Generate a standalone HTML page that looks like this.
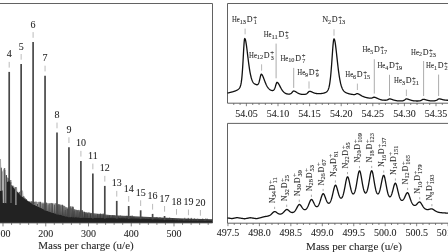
<!DOCTYPE html>
<html><head><meta charset="utf-8"><style>
html,body{margin:0;padding:0;background:#fff;overflow:hidden;width:448px;height:252px;}
svg{display:block;}
text{font-family:"Liberation Serif", "DejaVu Serif", serif;fill:#222;stroke:#222;stroke-width:0.06px;}
.lab text{fill:#2a2a2a;stroke:#2a2a2a;stroke-width:0.08px;}
</style></head><body>
<svg width="448" height="252" viewBox="0 0 448 252">
<rect width="448" height="252" fill="#fff"/>
<defs><linearGradient id="fg" gradientUnits="userSpaceOnUse" x1="0" y1="158" x2="0" y2="223"><stop offset="0" stop-color="#a8a8a8"/><stop offset="0.6" stop-color="#b0b0b0"/><stop offset="0.72" stop-color="#a8a8a8"/><stop offset="0.8" stop-color="#8a8a8a"/><stop offset="0.88" stop-color="#606060"/><stop offset="0.93" stop-color="#444"/><stop offset="1" stop-color="#2c2c2c"/></linearGradient></defs>
<polygon points="0,222.90 0.00,159.00 1.00,159.00 1.20,167.70 2.00,172.00 4.00,168.00 5.50,175.00 8.00,177.90 10.00,181.00 11.50,185.00 13.00,186.00 15.00,187.00 17.00,187.00 17.50,193.00 19.00,192.00 21.00,190.50 23.00,190.50 23.50,196.00 26.00,199.00 28.00,201.50 32.00,201.80 40.00,202.20 48.00,203.00 56.00,203.60 60.00,204.30 64.00,205.50 66.00,207.00 68.00,207.50 70.00,206.20 73.00,206.60 74.00,209.20 80.00,210.50 82.00,210.30 84.00,212.00 88.00,212.60 96.00,213.60 110.00,214.90 124.00,215.70 150.00,217.00 184.00,218.40 212.50,219.20 212.5,222.90" fill="url(#fg)"/>
<polygon points="0,222.90 0.00,190.50 2.60,190.50 2.80,203.00 6.80,203.00 7.00,182.00 9.50,180.50 11.00,184.50 13.00,187.00 15.00,189.50 17.00,191.50 18.50,193.00 20.00,194.50 22.00,196.50 24.00,198.30 28.00,201.00 32.00,203.50 36.00,205.70 40.00,207.60 45.00,210.00 50.00,211.90 55.00,213.50 60.00,214.70 65.00,216.20 70.00,217.00 88.00,217.90 124.00,218.30 150.00,218.90 184.00,220.60 212.50,221.00 212.5,222.90" fill="#222"/>
<line x1="25.00" y1="197.91" x2="25.00" y2="198.98" stroke="#353535" stroke-width="0.8"/>
<line x1="26.54" y1="199.01" x2="26.54" y2="200.01" stroke="#4a4a4a" stroke-width="0.8"/>
<line x1="29.74" y1="201.43" x2="29.74" y2="202.09" stroke="#353535" stroke-width="0.8"/>
<line x1="31.30" y1="201.14" x2="31.30" y2="203.06" stroke="#353535" stroke-width="0.8"/>
<line x1="32.93" y1="201.21" x2="32.93" y2="204.01" stroke="#4a4a4a" stroke-width="0.8"/>
<line x1="34.30" y1="201.74" x2="34.30" y2="204.77" stroke="#4a4a4a" stroke-width="0.8"/>
<line x1="35.95" y1="201.37" x2="35.95" y2="205.67" stroke="#4a4a4a" stroke-width="0.8"/>
<line x1="37.49" y1="204.01" x2="37.49" y2="206.41" stroke="#353535" stroke-width="0.8"/>
<line x1="39.13" y1="201.73" x2="39.13" y2="207.18" stroke="#3e3e3e" stroke-width="0.8"/>
<line x1="40.51" y1="201.78" x2="40.51" y2="207.85" stroke="#3e3e3e" stroke-width="0.8"/>
<line x1="42.15" y1="203.52" x2="42.15" y2="208.63" stroke="#353535" stroke-width="0.8"/>
<line x1="43.80" y1="203.57" x2="43.80" y2="209.42" stroke="#3e3e3e" stroke-width="0.8"/>
<line x1="45.16" y1="203.91" x2="45.16" y2="210.06" stroke="#4a4a4a" stroke-width="0.8"/>
<line x1="46.49" y1="202.63" x2="46.49" y2="210.57" stroke="#4a4a4a" stroke-width="0.8"/>
<line x1="48.11" y1="204.38" x2="48.11" y2="211.18" stroke="#3e3e3e" stroke-width="0.8"/>
<line x1="49.76" y1="203.60" x2="49.76" y2="211.81" stroke="#3e3e3e" stroke-width="0.8"/>
<line x1="51.21" y1="202.94" x2="51.21" y2="212.29" stroke="#353535" stroke-width="0.8"/>
<line x1="52.56" y1="203.38" x2="52.56" y2="212.72" stroke="#3e3e3e" stroke-width="0.8"/>
<line x1="54.39" y1="204.72" x2="54.39" y2="213.30" stroke="#3e3e3e" stroke-width="0.8"/>
<line x1="56.05" y1="203.01" x2="56.05" y2="213.75" stroke="#4a4a4a" stroke-width="0.8"/>
<line x1="57.60" y1="205.20" x2="57.60" y2="214.12" stroke="#353535" stroke-width="0.8"/>
<line x1="59.46" y1="204.59" x2="59.46" y2="214.57" stroke="#4a4a4a" stroke-width="0.8"/>
<line x1="60.81" y1="205.31" x2="60.81" y2="214.94" stroke="#3e3e3e" stroke-width="0.8"/>
<line x1="62.31" y1="205.17" x2="62.31" y2="215.39" stroke="#3e3e3e" stroke-width="0.8"/>
<line x1="63.96" y1="205.97" x2="63.96" y2="215.89" stroke="#353535" stroke-width="0.8"/>
<line x1="65.83" y1="207.40" x2="65.83" y2="216.33" stroke="#4a4a4a" stroke-width="0.8"/>
<line x1="67.17" y1="208.54" x2="67.17" y2="216.55" stroke="#3e3e3e" stroke-width="0.8"/>
<line x1="68.85" y1="208.93" x2="68.85" y2="216.82" stroke="#3e3e3e" stroke-width="0.8"/>
<line x1="70.33" y1="206.52" x2="70.33" y2="217.02" stroke="#4a4a4a" stroke-width="0.8"/>
<line x1="71.83" y1="208.28" x2="71.83" y2="217.09" stroke="#3e3e3e" stroke-width="0.8"/>
<line x1="73.23" y1="206.74" x2="73.23" y2="217.16" stroke="#353535" stroke-width="0.8"/>
<line x1="74.67" y1="209.35" x2="74.67" y2="217.23" stroke="#4a4a4a" stroke-width="0.8"/>
<line x1="76.11" y1="209.95" x2="76.11" y2="217.31" stroke="#3e3e3e" stroke-width="0.8"/>
<line x1="77.46" y1="210.41" x2="77.46" y2="217.37" stroke="#4a4a4a" stroke-width="0.8"/>
<line x1="78.93" y1="209.85" x2="78.93" y2="217.45" stroke="#3e3e3e" stroke-width="0.8"/>
<line x1="80.75" y1="210.40" x2="80.75" y2="217.54" stroke="#3e3e3e" stroke-width="0.8"/>
<line x1="82.64" y1="211.95" x2="82.64" y2="217.63" stroke="#3e3e3e" stroke-width="0.8"/>
<line x1="84.51" y1="211.70" x2="84.51" y2="217.73" stroke="#353535" stroke-width="0.8"/>
<line x1="85.90" y1="213.33" x2="85.90" y2="217.80" stroke="#353535" stroke-width="0.8"/>
<line x1="87.50" y1="213.37" x2="87.50" y2="217.87" stroke="#3e3e3e" stroke-width="0.8"/>
<line x1="88.96" y1="212.33" x2="88.96" y2="217.91" stroke="#4a4a4a" stroke-width="0.8"/>
<line x1="90.49" y1="213.70" x2="90.49" y2="217.93" stroke="#353535" stroke-width="0.8"/>
<line x1="92.20" y1="213.77" x2="92.20" y2="217.95" stroke="#4a4a4a" stroke-width="0.8"/>
<line x1="93.89" y1="214.61" x2="93.89" y2="217.97" stroke="#3e3e3e" stroke-width="0.8"/>
<line x1="95.73" y1="214.95" x2="95.73" y2="217.99" stroke="#4a4a4a" stroke-width="0.8"/>
<line x1="97.51" y1="214.04" x2="97.51" y2="218.01" stroke="#3e3e3e" stroke-width="0.8"/>
<line x1="99.05" y1="214.43" x2="99.05" y2="218.02" stroke="#3e3e3e" stroke-width="0.8"/>
<line x1="100.39" y1="213.40" x2="100.39" y2="218.04" stroke="#353535" stroke-width="0.8"/>
<line x1="101.95" y1="213.66" x2="101.95" y2="218.06" stroke="#4a4a4a" stroke-width="0.8"/>
<line x1="103.28" y1="213.48" x2="103.28" y2="218.07" stroke="#353535" stroke-width="0.8"/>
<line x1="104.90" y1="216.28" x2="104.90" y2="218.09" stroke="#4a4a4a" stroke-width="0.8"/>
<line x1="106.22" y1="216.20" x2="106.22" y2="218.10" stroke="#4a4a4a" stroke-width="0.8"/>
<line x1="107.74" y1="215.67" x2="107.74" y2="218.12" stroke="#3e3e3e" stroke-width="0.8"/>
<line x1="109.41" y1="215.37" x2="109.41" y2="218.14" stroke="#353535" stroke-width="0.8"/>
<line x1="111.22" y1="216.95" x2="111.22" y2="218.16" stroke="#3e3e3e" stroke-width="0.8"/>
<line x1="112.80" y1="215.13" x2="112.80" y2="218.18" stroke="#353535" stroke-width="0.8"/>
<line x1="114.16" y1="215.30" x2="114.16" y2="218.19" stroke="#3e3e3e" stroke-width="0.8"/>
<line x1="115.75" y1="216.37" x2="115.75" y2="218.21" stroke="#4a4a4a" stroke-width="0.8"/>
<line x1="117.07" y1="217.17" x2="117.07" y2="218.22" stroke="#4a4a4a" stroke-width="0.8"/>
<line x1="118.58" y1="216.52" x2="118.58" y2="218.24" stroke="#353535" stroke-width="0.8"/>
<line x1="120.34" y1="215.53" x2="120.34" y2="218.26" stroke="#4a4a4a" stroke-width="0.8"/>
<line x1="122.16" y1="216.74" x2="122.16" y2="218.28" stroke="#3e3e3e" stroke-width="0.8"/>
<line x1="123.77" y1="217.43" x2="123.77" y2="218.30" stroke="#3e3e3e" stroke-width="0.8"/>
<line x1="125.53" y1="216.47" x2="125.53" y2="218.34" stroke="#4a4a4a" stroke-width="0.8"/>
<line x1="127.03" y1="215.68" x2="127.03" y2="218.37" stroke="#353535" stroke-width="0.8"/>
<line x1="128.81" y1="217.43" x2="128.81" y2="218.41" stroke="#4a4a4a" stroke-width="0.8"/>
<line x1="130.59" y1="215.79" x2="130.59" y2="218.45" stroke="#3e3e3e" stroke-width="0.8"/>
<line x1="132.11" y1="215.39" x2="132.11" y2="218.49" stroke="#353535" stroke-width="0.8"/>
<line x1="133.88" y1="216.72" x2="133.88" y2="218.53" stroke="#353535" stroke-width="0.8"/>
<line x1="140.58" y1="216.35" x2="140.58" y2="218.68" stroke="#353535" stroke-width="0.8"/>
<line x1="142.16" y1="216.75" x2="142.16" y2="218.72" stroke="#3e3e3e" stroke-width="0.8"/>
<line x1="145.64" y1="217.32" x2="145.64" y2="218.80" stroke="#4a4a4a" stroke-width="0.8"/>
<line x1="147.14" y1="217.86" x2="147.14" y2="218.83" stroke="#4a4a4a" stroke-width="0.8"/>
<line x1="148.52" y1="217.21" x2="148.52" y2="218.87" stroke="#4a4a4a" stroke-width="0.8"/>
<line x1="150.27" y1="217.55" x2="150.27" y2="218.91" stroke="#353535" stroke-width="0.8"/>
<line x1="151.83" y1="218.06" x2="151.83" y2="218.99" stroke="#353535" stroke-width="0.8"/>
<line x1="155.14" y1="217.54" x2="155.14" y2="219.16" stroke="#353535" stroke-width="0.8"/>
<line x1="156.88" y1="216.96" x2="156.88" y2="219.24" stroke="#353535" stroke-width="0.8"/>
<line x1="158.20" y1="218.19" x2="158.20" y2="219.31" stroke="#3e3e3e" stroke-width="0.8"/>
<line x1="159.98" y1="217.02" x2="159.98" y2="219.40" stroke="#4a4a4a" stroke-width="0.8"/>
<line x1="161.87" y1="218.53" x2="161.87" y2="219.49" stroke="#3e3e3e" stroke-width="0.8"/>
<line x1="163.26" y1="218.28" x2="163.26" y2="219.56" stroke="#353535" stroke-width="0.8"/>
<line x1="166.26" y1="218.34" x2="166.26" y2="219.71" stroke="#353535" stroke-width="0.8"/>
<line x1="169.62" y1="217.60" x2="169.62" y2="219.88" stroke="#3e3e3e" stroke-width="0.8"/>
<line x1="171.04" y1="218.47" x2="171.04" y2="219.95" stroke="#4a4a4a" stroke-width="0.8"/>
<line x1="172.54" y1="218.65" x2="172.54" y2="220.03" stroke="#353535" stroke-width="0.8"/>
<line x1="173.88" y1="219.25" x2="173.88" y2="220.09" stroke="#3e3e3e" stroke-width="0.8"/>
<line x1="175.57" y1="219.54" x2="175.57" y2="220.18" stroke="#4a4a4a" stroke-width="0.8"/>
<line x1="178.73" y1="218.87" x2="178.73" y2="220.34" stroke="#4a4a4a" stroke-width="0.8"/>
<line x1="180.33" y1="219.89" x2="180.33" y2="220.42" stroke="#353535" stroke-width="0.8"/>
<line x1="182.00" y1="219.69" x2="182.00" y2="220.50" stroke="#353535" stroke-width="0.8"/>
<line x1="183.40" y1="218.90" x2="183.40" y2="220.57" stroke="#4a4a4a" stroke-width="0.8"/>
<line x1="184.77" y1="217.79" x2="184.77" y2="220.61" stroke="#4a4a4a" stroke-width="0.8"/>
<line x1="186.38" y1="219.22" x2="186.38" y2="220.63" stroke="#353535" stroke-width="0.8"/>
<line x1="188.21" y1="217.88" x2="188.21" y2="220.66" stroke="#353535" stroke-width="0.8"/>
<line x1="189.68" y1="219.92" x2="189.68" y2="220.68" stroke="#4a4a4a" stroke-width="0.8"/>
<line x1="191.25" y1="217.88" x2="191.25" y2="220.70" stroke="#353535" stroke-width="0.8"/>
<line x1="192.82" y1="219.56" x2="192.82" y2="220.72" stroke="#4a4a4a" stroke-width="0.8"/>
<line x1="194.48" y1="218.45" x2="194.48" y2="220.75" stroke="#3e3e3e" stroke-width="0.8"/>
<line x1="196.05" y1="219.43" x2="196.05" y2="220.77" stroke="#3e3e3e" stroke-width="0.8"/>
<line x1="197.66" y1="218.68" x2="197.66" y2="220.79" stroke="#4a4a4a" stroke-width="0.8"/>
<line x1="200.94" y1="219.64" x2="200.94" y2="220.84" stroke="#353535" stroke-width="0.8"/>
<line x1="202.74" y1="218.51" x2="202.74" y2="220.86" stroke="#353535" stroke-width="0.8"/>
<line x1="204.28" y1="219.05" x2="204.28" y2="220.88" stroke="#4a4a4a" stroke-width="0.8"/>
<line x1="205.72" y1="218.41" x2="205.72" y2="220.90" stroke="#4a4a4a" stroke-width="0.8"/>
<line x1="207.20" y1="218.59" x2="207.20" y2="220.93" stroke="#353535" stroke-width="0.8"/>
<line x1="209.07" y1="220.11" x2="209.07" y2="220.95" stroke="#3e3e3e" stroke-width="0.8"/>
<line x1="212.33" y1="219.01" x2="212.33" y2="221.00" stroke="#353535" stroke-width="0.8"/>
<line x1="11.0" y1="182" x2="11.0" y2="203" stroke="#8c8c8c" stroke-width="0.9"/>
<line x1="15.9" y1="188" x2="15.9" y2="205" stroke="#9a9a9a" stroke-width="1.4"/>
<line x1="5.0" y1="170" x2="5.0" y2="203" stroke="#777" stroke-width="0.8"/>
<line x1="0.5" y1="159" x2="0.5" y2="190.80" stroke="#a8a8a8" stroke-width="1.0"/>
<line x1="1.3" y1="167.7" x2="1.3" y2="190.80" stroke="#3c3c3c" stroke-width="0.9"/>
<line x1="4.7" y1="168" x2="4.7" y2="203.30" stroke="#444" stroke-width="0.9"/>
<line x1="6.5" y1="175" x2="6.5" y2="203.30" stroke="#444" stroke-width="0.9"/>
<line x1="8.2" y1="177.9" x2="8.2" y2="181.58" stroke="#3a3a3a" stroke-width="0.8"/>
<line x1="10.8" y1="180" x2="10.8" y2="184.27" stroke="#3a3a3a" stroke-width="0.9"/>
<line x1="12.9" y1="185.5" x2="12.9" y2="187.18" stroke="#3a3a3a" stroke-width="0.9"/>
<line x1="15.8" y1="187" x2="15.8" y2="190.60" stroke="#5a5a5a" stroke-width="0.9"/>
<line x1="19.5" y1="192" x2="19.5" y2="194.30" stroke="#555" stroke-width="0.9"/>
<line x1="14.6" y1="188.5" x2="14.6" y2="189.30" stroke="#444" stroke-width="0.8"/>
<line x1="18" y1="193.6" x2="18" y2="192.80" stroke="#333" stroke-width="0.9"/>
<line x1="23.8" y1="196.3" x2="23.8" y2="198.42" stroke="#333" stroke-width="0.9"/>
<line x1="58.5" y1="204.3" x2="58.5" y2="214.64" stroke="#444" stroke-width="0.7"/>
<line x1="62.4" y1="204.6" x2="62.4" y2="215.72" stroke="#444" stroke-width="0.7"/>
<line x1="65.3" y1="210" x2="65.3" y2="216.55" stroke="#444" stroke-width="0.7"/>
<line x1="67.4" y1="208.9" x2="67.4" y2="216.88" stroke="#444" stroke-width="0.7"/>
<line x1="72.4" y1="206.8" x2="72.4" y2="217.42" stroke="#444" stroke-width="0.7"/>
<line x1="70.6" y1="208.2" x2="70.6" y2="217.33" stroke="#555" stroke-width="0.7"/>
<line x1="74.2" y1="211.1" x2="74.2" y2="217.51" stroke="#444" stroke-width="0.7"/>
<line x1="79.6" y1="212.1" x2="79.6" y2="217.78" stroke="#444" stroke-width="0.7"/>
<line x1="82.4" y1="210" x2="82.4" y2="217.92" stroke="#444" stroke-width="0.7"/>
<line x1="86" y1="212.5" x2="86" y2="218.10" stroke="#444" stroke-width="0.7"/>
<line x1="9.20" y1="71.9" x2="9.20" y2="181.18" stroke="#484848" stroke-width="1.7"/>
<line x1="9.20" y1="61.90" x2="9.20" y2="67.60" stroke="#aaa" stroke-width="0.8"/>
<text x="9.20" y="57.40" text-anchor="middle" font-size="10">4</text>
<line x1="21.15" y1="64" x2="21.15" y2="196.15" stroke="#484848" stroke-width="1.7"/>
<line x1="21.15" y1="54.00" x2="21.15" y2="59.70" stroke="#aaa" stroke-width="0.8"/>
<text x="21.15" y="49.50" text-anchor="middle" font-size="10">5</text>
<line x1="33.10" y1="42.1" x2="33.10" y2="204.60" stroke="#484848" stroke-width="1.7"/>
<line x1="33.10" y1="32.10" x2="33.10" y2="37.80" stroke="#aaa" stroke-width="0.8"/>
<text x="33.10" y="27.60" text-anchor="middle" font-size="10">6</text>
<line x1="45.05" y1="75.7" x2="45.05" y2="210.52" stroke="#484848" stroke-width="1.7"/>
<line x1="45.05" y1="65.70" x2="45.05" y2="71.40" stroke="#aaa" stroke-width="0.8"/>
<text x="45.05" y="61.20" text-anchor="middle" font-size="10">7</text>
<line x1="57.00" y1="132.6" x2="57.00" y2="214.48" stroke="#484848" stroke-width="1.7"/>
<line x1="57.00" y1="122.60" x2="57.00" y2="128.30" stroke="#aaa" stroke-width="0.8"/>
<text x="57.00" y="118.10" text-anchor="middle" font-size="10">8</text>
<line x1="68.95" y1="147.3" x2="68.95" y2="217.33" stroke="#484848" stroke-width="1.7"/>
<line x1="68.95" y1="137.30" x2="68.95" y2="143.00" stroke="#aaa" stroke-width="0.8"/>
<text x="68.95" y="132.80" text-anchor="middle" font-size="10">9</text>
<line x1="80.90" y1="160.9" x2="80.90" y2="218.05" stroke="#484848" stroke-width="1.7"/>
<line x1="80.90" y1="150.90" x2="80.90" y2="156.60" stroke="#aaa" stroke-width="0.8"/>
<text x="80.90" y="146.40" text-anchor="middle" font-size="10">10</text>
<line x1="92.85" y1="173.6" x2="92.85" y2="218.45" stroke="#484848" stroke-width="1.7"/>
<line x1="92.85" y1="163.60" x2="92.85" y2="169.30" stroke="#aaa" stroke-width="0.8"/>
<text x="92.85" y="159.10" text-anchor="middle" font-size="10">11</text>
<line x1="104.80" y1="185.9" x2="104.80" y2="218.59" stroke="#484848" stroke-width="1.7"/>
<line x1="104.80" y1="175.90" x2="104.80" y2="181.60" stroke="#aaa" stroke-width="0.8"/>
<text x="104.80" y="171.40" text-anchor="middle" font-size="10">12</text>
<line x1="116.75" y1="200.9" x2="116.75" y2="218.72" stroke="#484848" stroke-width="1.7"/>
<line x1="116.75" y1="190.90" x2="116.75" y2="196.60" stroke="#aaa" stroke-width="0.8"/>
<text x="116.75" y="186.40" text-anchor="middle" font-size="10">13</text>
<line x1="128.70" y1="206" x2="128.70" y2="218.91" stroke="#484848" stroke-width="1.7"/>
<line x1="128.70" y1="196.00" x2="128.70" y2="201.70" stroke="#aaa" stroke-width="0.8"/>
<text x="128.70" y="191.50" text-anchor="middle" font-size="10">14</text>
<line x1="140.65" y1="210.3" x2="140.65" y2="219.18" stroke="#484848" stroke-width="1.7"/>
<line x1="140.65" y1="200.30" x2="140.65" y2="206.00" stroke="#aaa" stroke-width="0.8"/>
<text x="140.65" y="195.80" text-anchor="middle" font-size="10">15</text>
<line x1="152.60" y1="213.9" x2="152.60" y2="219.53" stroke="#484848" stroke-width="1.7"/>
<line x1="152.60" y1="203.90" x2="152.60" y2="209.60" stroke="#aaa" stroke-width="0.8"/>
<text x="152.60" y="199.40" text-anchor="middle" font-size="10">16</text>
<line x1="164.55" y1="216" x2="164.55" y2="220.13" stroke="#484848" stroke-width="1.7"/>
<line x1="164.55" y1="206.00" x2="164.55" y2="211.70" stroke="#aaa" stroke-width="0.8"/>
<text x="164.55" y="201.50" text-anchor="middle" font-size="10">17</text>
<line x1="176.50" y1="209.00" x2="176.50" y2="214.70" stroke="#aaa" stroke-width="0.8"/>
<text x="176.50" y="204.50" text-anchor="middle" font-size="10">18</text>
<line x1="188.45" y1="209.50" x2="188.45" y2="215.20" stroke="#aaa" stroke-width="0.8"/>
<text x="188.45" y="205.00" text-anchor="middle" font-size="10">19</text>
<line x1="200.40" y1="210.00" x2="200.40" y2="215.70" stroke="#aaa" stroke-width="0.8"/>
<text x="200.40" y="205.50" text-anchor="middle" font-size="10">20</text>
<path d="M-45,3.5 H212.5 V222.9 H-45" fill="none" stroke="#505050" stroke-width="0.9"/>
<line x1="3.00" y1="222.9" x2="3.00" y2="226.4" stroke="#505050" stroke-width="0.7"/>
<text x="3.00" y="236.6" text-anchor="middle" font-size="10">100</text>
<line x1="11.55" y1="222.9" x2="11.55" y2="224.9" stroke="#505050" stroke-width="0.7"/>
<line x1="20.10" y1="222.9" x2="20.10" y2="224.9" stroke="#505050" stroke-width="0.7"/>
<line x1="28.65" y1="222.9" x2="28.65" y2="224.9" stroke="#505050" stroke-width="0.7"/>
<line x1="37.20" y1="222.9" x2="37.20" y2="224.9" stroke="#505050" stroke-width="0.7"/>
<line x1="45.75" y1="222.9" x2="45.75" y2="226.4" stroke="#505050" stroke-width="0.7"/>
<text x="45.75" y="236.6" text-anchor="middle" font-size="10">200</text>
<line x1="54.30" y1="222.9" x2="54.30" y2="224.9" stroke="#505050" stroke-width="0.7"/>
<line x1="62.85" y1="222.9" x2="62.85" y2="224.9" stroke="#505050" stroke-width="0.7"/>
<line x1="71.40" y1="222.9" x2="71.40" y2="224.9" stroke="#505050" stroke-width="0.7"/>
<line x1="79.95" y1="222.9" x2="79.95" y2="224.9" stroke="#505050" stroke-width="0.7"/>
<line x1="88.50" y1="222.9" x2="88.50" y2="226.4" stroke="#505050" stroke-width="0.7"/>
<text x="88.50" y="236.6" text-anchor="middle" font-size="10">300</text>
<line x1="97.05" y1="222.9" x2="97.05" y2="224.9" stroke="#505050" stroke-width="0.7"/>
<line x1="105.60" y1="222.9" x2="105.60" y2="224.9" stroke="#505050" stroke-width="0.7"/>
<line x1="114.15" y1="222.9" x2="114.15" y2="224.9" stroke="#505050" stroke-width="0.7"/>
<line x1="122.70" y1="222.9" x2="122.70" y2="224.9" stroke="#505050" stroke-width="0.7"/>
<line x1="131.25" y1="222.9" x2="131.25" y2="226.4" stroke="#505050" stroke-width="0.7"/>
<text x="131.25" y="236.6" text-anchor="middle" font-size="10">400</text>
<line x1="139.80" y1="222.9" x2="139.80" y2="224.9" stroke="#505050" stroke-width="0.7"/>
<line x1="148.35" y1="222.9" x2="148.35" y2="224.9" stroke="#505050" stroke-width="0.7"/>
<line x1="156.90" y1="222.9" x2="156.90" y2="224.9" stroke="#505050" stroke-width="0.7"/>
<line x1="165.45" y1="222.9" x2="165.45" y2="224.9" stroke="#505050" stroke-width="0.7"/>
<line x1="174.00" y1="222.9" x2="174.00" y2="226.4" stroke="#505050" stroke-width="0.7"/>
<text x="174.00" y="236.6" text-anchor="middle" font-size="10">500</text>
<line x1="182.55" y1="222.9" x2="182.55" y2="224.9" stroke="#505050" stroke-width="0.7"/>
<line x1="191.10" y1="222.9" x2="191.10" y2="224.9" stroke="#505050" stroke-width="0.7"/>
<line x1="199.65" y1="222.9" x2="199.65" y2="224.9" stroke="#505050" stroke-width="0.7"/>
<line x1="208.20" y1="222.9" x2="208.20" y2="224.9" stroke="#505050" stroke-width="0.7"/>
<text x="86" y="249.2" text-anchor="middle" font-size="10" textLength="95.4" lengthAdjust="spacingAndGlyphs">Mass per charge (u/e)</text>
<path d="M227.5,103.2 V3.5 H460 M227.5,103.2 H460" fill="none" stroke="#505050" stroke-width="0.9"/>
<line x1="233.76" y1="103.2" x2="233.76" y2="105.0" stroke="#505050" stroke-width="0.7"/>
<line x1="240.08" y1="103.2" x2="240.08" y2="105.0" stroke="#505050" stroke-width="0.7"/>
<line x1="246.40" y1="103.2" x2="246.40" y2="106.2" stroke="#505050" stroke-width="0.7"/>
<text x="246.40" y="116.7" text-anchor="middle" font-size="10">54.05</text>
<line x1="252.72" y1="103.2" x2="252.72" y2="105.0" stroke="#505050" stroke-width="0.7"/>
<line x1="259.04" y1="103.2" x2="259.04" y2="105.0" stroke="#505050" stroke-width="0.7"/>
<line x1="265.36" y1="103.2" x2="265.36" y2="105.0" stroke="#505050" stroke-width="0.7"/>
<line x1="271.68" y1="103.2" x2="271.68" y2="105.0" stroke="#505050" stroke-width="0.7"/>
<line x1="278.00" y1="103.2" x2="278.00" y2="106.2" stroke="#505050" stroke-width="0.7"/>
<text x="278.00" y="116.7" text-anchor="middle" font-size="10">54.10</text>
<line x1="284.32" y1="103.2" x2="284.32" y2="105.0" stroke="#505050" stroke-width="0.7"/>
<line x1="290.64" y1="103.2" x2="290.64" y2="105.0" stroke="#505050" stroke-width="0.7"/>
<line x1="296.96" y1="103.2" x2="296.96" y2="105.0" stroke="#505050" stroke-width="0.7"/>
<line x1="303.28" y1="103.2" x2="303.28" y2="105.0" stroke="#505050" stroke-width="0.7"/>
<line x1="309.60" y1="103.2" x2="309.60" y2="106.2" stroke="#505050" stroke-width="0.7"/>
<text x="309.60" y="116.7" text-anchor="middle" font-size="10">54.15</text>
<line x1="315.92" y1="103.2" x2="315.92" y2="105.0" stroke="#505050" stroke-width="0.7"/>
<line x1="322.24" y1="103.2" x2="322.24" y2="105.0" stroke="#505050" stroke-width="0.7"/>
<line x1="328.56" y1="103.2" x2="328.56" y2="105.0" stroke="#505050" stroke-width="0.7"/>
<line x1="334.88" y1="103.2" x2="334.88" y2="105.0" stroke="#505050" stroke-width="0.7"/>
<line x1="341.20" y1="103.2" x2="341.20" y2="106.2" stroke="#505050" stroke-width="0.7"/>
<text x="341.20" y="116.7" text-anchor="middle" font-size="10">54.20</text>
<line x1="347.52" y1="103.2" x2="347.52" y2="105.0" stroke="#505050" stroke-width="0.7"/>
<line x1="353.84" y1="103.2" x2="353.84" y2="105.0" stroke="#505050" stroke-width="0.7"/>
<line x1="360.16" y1="103.2" x2="360.16" y2="105.0" stroke="#505050" stroke-width="0.7"/>
<line x1="366.48" y1="103.2" x2="366.48" y2="105.0" stroke="#505050" stroke-width="0.7"/>
<line x1="372.80" y1="103.2" x2="372.80" y2="106.2" stroke="#505050" stroke-width="0.7"/>
<text x="372.80" y="116.7" text-anchor="middle" font-size="10">54.25</text>
<line x1="379.12" y1="103.2" x2="379.12" y2="105.0" stroke="#505050" stroke-width="0.7"/>
<line x1="385.44" y1="103.2" x2="385.44" y2="105.0" stroke="#505050" stroke-width="0.7"/>
<line x1="391.76" y1="103.2" x2="391.76" y2="105.0" stroke="#505050" stroke-width="0.7"/>
<line x1="398.08" y1="103.2" x2="398.08" y2="105.0" stroke="#505050" stroke-width="0.7"/>
<line x1="404.40" y1="103.2" x2="404.40" y2="106.2" stroke="#505050" stroke-width="0.7"/>
<text x="404.40" y="116.7" text-anchor="middle" font-size="10">54.30</text>
<line x1="410.72" y1="103.2" x2="410.72" y2="105.0" stroke="#505050" stroke-width="0.7"/>
<line x1="417.04" y1="103.2" x2="417.04" y2="105.0" stroke="#505050" stroke-width="0.7"/>
<line x1="423.36" y1="103.2" x2="423.36" y2="105.0" stroke="#505050" stroke-width="0.7"/>
<line x1="429.68" y1="103.2" x2="429.68" y2="105.0" stroke="#505050" stroke-width="0.7"/>
<line x1="436.00" y1="103.2" x2="436.00" y2="106.2" stroke="#505050" stroke-width="0.7"/>
<text x="436.00" y="116.7" text-anchor="middle" font-size="10">54.35</text>
<line x1="442.32" y1="103.2" x2="442.32" y2="105.0" stroke="#505050" stroke-width="0.7"/>
<line x1="448.64" y1="103.2" x2="448.64" y2="105.0" stroke="#505050" stroke-width="0.7"/>
<path d="M227.50,93.05 L227.75,93.00 L228.00,92.94 L228.25,92.89 L228.50,92.83 L228.75,92.77 L229.00,92.72 L229.25,92.66 L229.50,92.60 L229.75,92.54 L230.00,92.48 L230.25,92.42 L230.50,92.36 L230.75,92.29 L231.00,92.23 L231.25,92.17 L231.50,92.10 L231.75,92.04 L232.00,91.97 L232.25,91.90 L232.50,91.83 L232.75,91.76 L233.00,91.69 L233.25,91.61 L233.50,91.54 L233.75,91.46 L234.00,91.38 L234.25,91.30 L234.50,91.21 L234.75,91.12 L235.00,91.03 L235.25,90.94 L235.50,90.84 L235.75,90.73 L236.00,90.63 L236.25,90.51 L236.50,90.40 L236.75,90.27 L237.00,90.14 L237.25,90.00 L237.50,89.85 L237.75,89.69 L238.00,89.52 L238.25,89.33 L238.50,89.13 L238.75,88.90 L239.00,88.65 L239.25,88.36 L239.50,88.02 L239.75,87.62 L240.00,87.14 L240.25,86.56 L240.50,85.84 L240.75,84.94 L241.00,83.82 L241.25,82.43 L241.50,80.71 L241.75,78.62 L242.00,76.11 L242.25,73.15 L242.50,69.74 L242.75,65.90 L243.00,61.68 L243.25,57.20 L243.50,52.61 L243.75,48.16 L244.00,44.17 L244.25,41.00 L244.50,39.03 L244.75,38.50 L245.00,38.69 L245.25,39.21 L245.50,40.04 L245.75,41.16 L246.00,42.53 L246.25,44.11 L246.50,45.87 L246.75,47.76 L247.00,49.74 L247.25,51.79 L247.50,53.86 L247.75,55.94 L248.00,58.00 L248.25,60.02 L248.50,61.98 L248.75,63.87 L249.00,65.69 L249.25,67.42 L249.50,69.05 L249.75,70.59 L250.00,72.02 L250.25,73.36 L250.50,74.59 L250.75,75.73 L251.00,76.77 L251.25,77.72 L251.50,78.58 L251.75,79.35 L252.00,80.05 L252.25,80.67 L252.50,81.23 L252.75,81.72 L253.00,82.15 L253.25,82.53 L253.50,82.87 L253.75,83.16 L254.00,83.41 L254.25,83.62 L254.50,83.80 L254.75,83.96 L255.00,84.08 L255.25,84.18 L255.50,84.26 L255.75,84.33 L256.00,84.48 L256.25,84.60 L256.50,84.69 L256.75,84.75 L257.00,84.77 L257.25,84.74 L257.50,84.65 L257.75,84.50 L258.00,84.26 L258.25,83.93 L258.50,83.49 L258.75,82.93 L259.00,82.24 L259.25,81.43 L259.50,80.49 L259.75,79.46 L260.00,78.36 L260.25,77.23 L260.50,76.16 L260.75,75.24 L261.00,74.55 L261.25,74.21 L261.50,74.25 L261.75,74.44 L262.00,74.72 L262.25,75.08 L262.50,75.51 L262.75,76.01 L263.00,76.57 L263.25,77.17 L263.50,77.80 L263.75,78.45 L264.00,79.12 L264.25,79.79 L264.50,80.47 L264.75,81.13 L265.00,81.78 L265.25,82.42 L265.50,83.03 L265.75,83.62 L266.00,84.19 L266.25,84.73 L266.50,85.24 L266.75,85.72 L267.00,86.17 L267.25,86.60 L267.50,87.00 L267.75,87.37 L268.00,87.71 L268.25,88.03 L268.50,88.33 L268.75,88.60 L269.00,88.85 L269.25,89.09 L269.50,89.30 L269.75,89.50 L270.00,89.68 L270.25,89.84 L270.50,89.99 L270.75,90.13 L271.00,90.25 L271.25,90.35 L271.50,90.42 L271.75,90.48 L272.00,90.52 L272.25,90.55 L272.50,90.55 L272.75,90.52 L273.00,90.46 L273.25,90.36 L273.50,90.20 L273.75,89.99 L274.00,89.70 L274.25,89.33 L274.50,88.87 L274.75,88.32 L275.00,87.68 L275.25,86.95 L275.50,86.15 L275.75,85.31 L276.00,84.46 L276.25,83.66 L276.50,82.99 L276.75,82.51 L277.00,82.30 L277.25,82.35 L277.50,82.49 L277.75,82.69 L278.00,82.95 L278.25,83.27 L278.50,83.63 L278.75,84.04 L279.00,84.47 L279.25,84.93 L279.50,85.40 L279.75,85.89 L280.00,86.37 L280.25,86.86 L280.50,87.34 L280.75,87.81 L281.00,88.26 L281.25,88.70 L281.50,89.13 L281.75,89.53 L282.00,89.92 L282.25,90.28 L282.50,90.63 L282.75,90.95 L283.00,91.26 L283.25,91.54 L283.50,91.80 L283.75,92.05 L284.00,92.28 L284.25,92.49 L284.50,92.68 L284.75,92.86 L285.00,93.03 L285.25,93.18 L285.50,93.33 L285.75,93.46 L286.00,93.58 L286.25,93.69 L286.50,93.80 L286.75,93.85 L287.00,93.90 L287.25,93.94 L287.50,93.98 L287.75,94.01 L288.00,94.03 L288.25,94.05 L288.50,94.06 L288.75,94.07 L289.00,94.07 L289.25,94.06 L289.50,94.03 L289.75,94.00 L290.00,93.94 L290.25,93.87 L290.50,93.77 L290.75,93.64 L291.00,93.49 L291.25,93.30 L291.50,93.07 L291.75,92.82 L292.00,92.54 L292.25,92.24 L292.50,91.93 L292.75,91.63 L293.00,91.36 L293.25,91.15 L293.50,91.03 L293.75,91.00 L294.00,91.03 L294.25,91.08 L294.50,91.15 L294.75,91.24 L295.00,91.35 L295.25,91.48 L295.50,91.61 L295.75,91.76 L296.00,91.91 L296.25,92.07 L296.50,92.22 L296.75,92.38 L297.00,92.54 L297.25,92.69 L297.50,92.84 L297.75,92.98 L298.00,93.12 L298.25,93.25 L298.50,93.37 L298.75,93.49 L299.00,93.60 L299.25,93.70 L299.50,93.79 L299.75,93.88 L300.00,93.96 L300.25,94.03 L300.50,94.10 L300.75,94.16 L301.00,94.21 L301.25,94.26 L301.50,94.30 L301.75,94.33 L302.00,94.35 L302.25,94.37 L302.50,94.39 L302.75,94.40 L303.00,94.40 L303.25,94.41 L303.50,94.41 L303.75,94.41 L304.00,94.40 L304.25,94.39 L304.50,94.37 L304.75,94.35 L305.00,94.32 L305.25,94.28 L305.50,94.23 L305.75,94.16 L306.00,94.08 L306.25,93.98 L306.50,93.86 L306.75,93.71 L307.00,93.53 L307.25,93.32 L307.50,93.08 L307.75,92.82 L308.00,92.54 L308.25,92.26 L308.50,91.97 L308.75,91.71 L309.00,91.50 L309.25,91.36 L309.50,91.30 L309.75,91.30 L310.00,91.32 L310.25,91.37 L310.50,91.43 L310.75,91.50 L311.00,91.59 L311.25,91.69 L311.50,91.80 L311.75,91.91 L312.00,92.03 L312.25,92.15 L312.50,92.27 L312.75,92.39 L313.00,92.50 L313.25,92.61 L313.50,92.72 L313.75,92.82 L314.00,92.92 L314.25,93.01 L314.50,93.09 L314.75,93.17 L315.00,93.24 L315.25,93.30 L315.50,93.36 L315.75,93.41 L316.00,93.45 L316.25,93.49 L316.50,93.52 L316.75,93.55 L317.00,93.57 L317.25,93.58 L317.50,93.59 L317.75,93.60 L318.00,93.60 L318.25,93.61 L318.50,93.62 L318.75,93.63 L319.00,93.63 L319.25,93.63 L319.50,93.63 L319.75,93.62 L320.00,93.61 L320.25,93.60 L320.50,93.59 L320.75,93.57 L321.00,93.55 L321.25,93.53 L321.50,93.50 L321.75,93.47 L322.00,93.44 L322.25,93.41 L322.50,93.37 L322.75,93.32 L323.00,93.28 L323.25,93.23 L323.50,93.17 L323.75,93.11 L324.00,93.04 L324.25,92.97 L324.50,92.89 L324.75,92.81 L325.00,92.71 L325.25,92.61 L325.50,92.49 L325.75,92.37 L326.00,92.22 L326.25,92.06 L326.50,91.88 L326.75,91.67 L327.00,91.43 L327.25,91.15 L327.50,90.83 L327.75,90.44 L328.00,89.99 L328.25,89.44 L328.50,88.80 L328.75,88.03 L329.00,87.13 L329.25,86.05 L329.50,84.79 L329.75,83.33 L330.00,81.63 L330.25,79.69 L330.50,77.49 L330.75,75.03 L331.00,72.30 L331.25,69.31 L331.50,66.10 L331.75,62.70 L332.00,59.15 L332.25,55.54 L332.50,51.96 L332.75,48.53 L333.00,45.39 L333.25,42.71 L333.50,40.64 L333.75,39.34 L334.00,38.90 L334.25,39.09 L334.50,39.64 L334.75,40.52 L335.00,41.72 L335.25,43.19 L335.50,44.90 L335.75,46.81 L336.00,48.87 L336.25,51.04 L336.50,53.29 L336.75,55.59 L337.00,57.89 L337.25,60.18 L337.50,62.44 L337.75,64.64 L338.00,66.78 L338.25,68.84 L338.50,70.80 L338.75,72.67 L339.00,74.44 L339.25,76.11 L339.50,77.66 L339.75,79.11 L340.00,80.46 L340.25,81.70 L340.50,82.84 L340.75,83.89 L341.00,84.84 L341.25,85.71 L341.50,86.50 L341.75,87.21 L342.00,87.86 L342.25,88.44 L342.50,88.96 L342.75,89.43 L343.00,89.86 L343.25,90.24 L343.50,90.58 L343.75,90.89 L344.00,91.17 L344.25,91.42 L344.50,91.65 L344.75,91.86 L345.00,92.05 L345.25,92.22 L345.50,92.38 L345.75,92.53 L346.00,92.67 L346.25,92.79 L346.50,92.91 L346.75,93.02 L347.00,93.12 L347.25,93.22 L347.50,93.31 L347.75,93.40 L348.00,93.48 L348.25,93.56 L348.50,93.63 L348.75,93.70 L349.00,93.77 L349.25,93.83 L349.50,93.89 L349.75,93.95 L350.00,94.01 L350.25,94.06 L350.50,94.11 L350.75,94.16 L351.00,94.20 L351.25,94.24 L351.50,94.28 L351.75,94.32 L352.00,94.35 L352.25,94.38 L352.50,94.42 L352.75,94.48 L353.00,94.53 L353.25,94.57 L353.50,94.60 L353.75,94.63 L354.00,94.63 L354.25,94.63 L354.50,94.60 L354.75,94.55 L355.00,94.49 L355.25,94.40 L355.50,94.29 L355.75,94.17 L356.00,94.03 L356.25,93.90 L356.50,93.76 L356.75,93.66 L357.00,93.59 L357.25,93.58 L357.50,93.63 L357.75,93.70 L358.00,93.79 L358.25,93.89 L358.50,94.00 L358.75,94.12 L359.00,94.25 L359.25,94.39 L359.50,94.53 L359.75,94.68 L360.00,94.83 L360.25,94.98 L360.50,95.13 L360.75,95.28 L361.00,95.42 L361.25,95.57 L361.50,95.70 L361.75,95.84 L362.00,95.97 L362.25,96.10 L362.50,96.22 L362.75,96.34 L363.00,96.45 L363.25,96.56 L363.50,96.66 L363.75,96.76 L364.00,96.85 L364.25,96.94 L364.50,97.03 L364.75,97.11 L365.00,97.19 L365.25,97.26 L365.50,97.34 L365.75,97.41 L366.00,97.47 L366.25,97.54 L366.50,97.60 L366.75,97.65 L367.00,97.70 L367.25,97.75 L367.50,97.80 L367.75,97.85 L368.00,97.89 L368.25,97.94 L368.50,97.98 L368.75,98.02 L369.00,98.06 L369.25,98.09 L369.50,98.12 L369.75,98.15 L370.00,98.17 L370.25,98.19 L370.50,98.20 L370.75,98.20 L371.00,98.19 L371.25,98.16 L371.50,98.12 L371.75,98.06 L372.00,97.99 L372.25,97.90 L372.50,97.80 L372.75,97.68 L373.00,97.56 L373.25,97.43 L373.50,97.32 L373.75,97.24 L374.00,97.19 L374.25,97.19 L374.50,97.24 L374.75,97.29 L375.00,97.36 L375.25,97.44 L375.50,97.53 L375.75,97.63 L376.00,97.73 L376.25,97.84 L376.50,97.95 L376.75,98.07 L377.00,98.18 L377.25,98.30 L377.50,98.42 L377.75,98.53 L378.00,98.65 L378.25,98.76 L378.50,98.86 L378.75,98.97 L379.00,99.07 L379.25,99.17 L379.50,99.26 L379.75,99.35 L380.00,99.44 L380.25,99.52 L380.50,99.60 L380.75,99.67 L381.00,99.75 L381.25,99.81 L381.50,99.88 L381.75,99.94 L382.00,100.00 L382.25,100.03 L382.50,100.06 L382.75,100.09 L383.00,100.11 L383.25,100.14 L383.50,100.16 L383.75,100.17 L384.00,100.19 L384.25,100.21 L384.50,100.22 L384.75,100.23 L385.00,100.23 L385.25,100.23 L385.50,100.23 L385.75,100.22 L386.00,100.20 L386.25,100.17 L386.50,100.13 L386.75,100.07 L387.00,100.01 L387.25,99.92 L387.50,99.82 L387.75,99.71 L388.00,99.58 L388.25,99.45 L388.50,99.31 L388.75,99.17 L389.00,99.05 L389.25,98.96 L389.50,98.91 L389.75,98.90 L390.00,98.93 L390.25,98.96 L390.50,99.00 L390.75,99.06 L391.00,99.12 L391.25,99.19 L391.50,99.27 L391.75,99.35 L392.00,99.43 L392.25,99.51 L392.50,99.60 L392.75,99.69 L393.00,99.77 L393.25,99.85 L393.50,99.94 L393.75,100.02 L394.00,100.09 L394.25,100.17 L394.50,100.24 L394.75,100.30 L395.00,100.37 L395.25,100.43 L395.50,100.48 L395.75,100.53 L396.00,100.58 L396.25,100.63 L396.50,100.67 L396.75,100.71 L397.00,100.75 L397.25,100.78 L397.50,100.81 L397.75,100.84 L398.00,100.87 L398.25,100.90 L398.50,100.91 L398.75,100.92 L399.00,100.93 L399.25,100.94 L399.50,100.94 L399.75,100.94 L400.00,100.95 L400.25,100.95 L400.50,100.95 L400.75,100.95 L401.00,100.94 L401.25,100.93 L401.50,100.92 L401.75,100.91 L402.00,100.89 L402.25,100.86 L402.50,100.83 L402.75,100.78 L403.00,100.73 L403.25,100.65 L403.50,100.57 L403.75,100.46 L404.00,100.33 L404.25,100.19 L404.50,100.02 L404.75,99.84 L405.00,99.65 L405.25,99.45 L405.50,99.27 L405.75,99.10 L406.00,98.98 L406.25,98.91 L406.50,98.90 L406.75,98.92 L407.00,98.95 L407.25,98.99 L407.50,99.04 L407.75,99.11 L408.00,99.18 L408.25,99.27 L408.50,99.35 L408.75,99.44 L409.00,99.54 L409.25,99.63 L409.50,99.72 L409.75,99.82 L410.00,99.91 L410.25,99.99 L410.50,100.08 L410.75,100.16 L411.00,100.24 L411.25,100.31 L411.50,100.38 L411.75,100.44 L412.00,100.50 L412.25,100.56 L412.50,100.61 L412.75,100.66 L413.00,100.70 L413.25,100.74 L413.50,100.78 L413.75,100.81 L414.00,100.84 L414.25,100.86 L414.50,100.88 L414.75,100.90 L415.00,100.92 L415.25,100.94 L415.50,100.95 L415.75,100.96 L416.00,100.97 L416.25,100.98 L416.50,100.98 L416.75,100.99 L417.00,100.99 L417.25,100.99 L417.50,100.99 L417.75,100.99 L418.00,100.99 L418.25,100.98 L418.50,100.97 L418.75,100.96 L419.00,100.94 L419.25,100.92 L419.50,100.89 L419.75,100.85 L420.00,100.79 L420.25,100.73 L420.50,100.65 L420.75,100.55 L421.00,100.44 L421.25,100.31 L421.50,100.17 L421.75,100.02 L422.00,99.86 L422.25,99.70 L422.50,99.55 L422.75,99.42 L423.00,99.34 L423.25,99.30 L423.50,99.31 L423.75,99.32 L424.00,99.35 L424.25,99.39 L424.50,99.44 L424.75,99.50 L425.00,99.56 L425.25,99.63 L425.50,99.70 L425.75,99.78 L426.00,99.85 L426.25,99.93 L426.50,100.01 L426.75,100.08 L427.00,100.16 L427.25,100.23 L427.50,100.30 L427.75,100.36 L428.00,100.43 L428.25,100.48 L428.50,100.54 L428.75,100.59 L429.00,100.64 L429.25,100.68 L429.50,100.72 L429.75,100.76 L430.00,100.79 L430.25,100.82 L430.50,100.85 L430.75,100.87 L431.00,100.89 L431.25,100.90 L431.50,100.91 L431.75,100.91 L432.00,100.91 L432.25,100.91 L432.50,100.91 L432.75,100.90 L433.00,100.89 L433.25,100.89 L433.50,100.87 L433.75,100.86 L434.00,100.84 L434.25,100.82 L434.50,100.80 L434.75,100.77 L435.00,100.73 L435.25,100.69 L435.50,100.63 L435.75,100.57 L436.00,100.49 L436.25,100.39 L436.50,100.28 L436.75,100.15 L437.00,100.00 L437.25,99.84 L437.50,99.67 L437.75,99.49 L438.00,99.32 L438.25,99.16 L438.50,99.03 L438.75,98.94 L439.00,98.90 L439.25,98.90 L439.50,98.91 L439.75,98.93 L440.00,98.96 L440.25,99.00 L440.50,99.05 L440.75,99.11 L441.00,99.17 L441.25,99.23 L441.50,99.30 L441.75,99.37 L442.00,99.44 L442.25,99.51 L442.50,99.58 L442.75,99.64 L443.00,99.70 L443.25,99.76 L443.50,99.82 L443.75,99.87 L444.00,99.92 L444.25,99.97 L444.50,100.01 L444.75,100.05 L445.00,100.08 L445.25,100.12 L445.50,100.14 L445.75,100.17 L446.00,100.19 L446.25,100.21 L446.50,100.22 L446.75,100.24 L447.00,100.25 L447.25,100.25 L447.50,100.26 L447.75,100.27 L448.00,100.27 L448.25,100.27 L448.50,100.27 L448.75,100.27 L449.00,100.27" fill="none" stroke="#111" stroke-width="1.3" stroke-linejoin="round"/>
<g class="lab" transform="translate(231.90,22.10)"><text x="0" y="0" font-size="8.0" textLength="7.9" lengthAdjust="spacingAndGlyphs">He</text><text x="7.80" y="1.4" font-size="5.7" textLength="6.30" lengthAdjust="spacingAndGlyphs">13</text><text x="14.85" y="0" font-size="8.0" textLength="5.8" lengthAdjust="spacingAndGlyphs">D</text><text x="21.25" y="-2.4" font-size="6.6">+</text><text x="21.75" y="2.1" font-size="5.50" textLength="3.00" lengthAdjust="spacingAndGlyphs">1</text></g>
<line x1="245.1" y1="28.6" x2="245.1" y2="34.3" stroke="#999" stroke-width="0.7"/>
<g class="lab" transform="translate(249.00,57.60)"><text x="0" y="0" font-size="8.0" textLength="7.9" lengthAdjust="spacingAndGlyphs">He</text><text x="7.80" y="1.4" font-size="5.7" textLength="6.30" lengthAdjust="spacingAndGlyphs">12</text><text x="14.85" y="0" font-size="8.0" textLength="5.8" lengthAdjust="spacingAndGlyphs">D</text><text x="21.25" y="-2.4" font-size="6.6">+</text><text x="21.75" y="2.1" font-size="5.50" textLength="3.00" lengthAdjust="spacingAndGlyphs">3</text></g>
<line x1="261.6" y1="64.3" x2="261.6" y2="70.7" stroke="#999" stroke-width="0.7"/>
<g class="lab" transform="translate(263.70,37.10)"><text x="0" y="0" font-size="8.0" textLength="7.9" lengthAdjust="spacingAndGlyphs">He</text><text x="7.80" y="1.4" font-size="5.7" textLength="6.30" lengthAdjust="spacingAndGlyphs">11</text><text x="14.85" y="0" font-size="8.0" textLength="5.8" lengthAdjust="spacingAndGlyphs">D</text><text x="21.25" y="-2.4" font-size="6.6">+</text><text x="21.75" y="2.1" font-size="5.50" textLength="3.00" lengthAdjust="spacingAndGlyphs">5</text></g>
<line x1="276.1" y1="43.6" x2="276.1" y2="78.3" stroke="#888" stroke-width="0.7"/>
<g class="lab" transform="translate(280.40,60.70)"><text x="0" y="0" font-size="8.0" textLength="7.9" lengthAdjust="spacingAndGlyphs">He</text><text x="7.80" y="1.4" font-size="5.7" textLength="6.30" lengthAdjust="spacingAndGlyphs">10</text><text x="14.85" y="0" font-size="8.0" textLength="5.8" lengthAdjust="spacingAndGlyphs">D</text><text x="21.25" y="-2.4" font-size="6.6">+</text><text x="21.75" y="2.1" font-size="5.50" textLength="3.00" lengthAdjust="spacingAndGlyphs">7</text></g>
<line x1="293.7" y1="67.9" x2="293.7" y2="87.9" stroke="#888" stroke-width="0.7"/>
<g class="lab" transform="translate(297.30,75.30)"><text x="0" y="0" font-size="8.0" textLength="7.9" lengthAdjust="spacingAndGlyphs">He</text><text x="7.80" y="1.4" font-size="5.7" textLength="3.00" lengthAdjust="spacingAndGlyphs">9</text><text x="11.55" y="0" font-size="8.0" textLength="5.8" lengthAdjust="spacingAndGlyphs">D</text><text x="17.95" y="-2.4" font-size="6.6">+</text><text x="18.45" y="2.1" font-size="5.50" textLength="3.00" lengthAdjust="spacingAndGlyphs">9</text></g>
<line x1="309.0" y1="81.4" x2="309.0" y2="88.6" stroke="#999" stroke-width="0.7"/>
<g class="lab" transform="translate(322.30,22.10)"><text x="0" y="0" font-size="8.0" textLength="5.9" lengthAdjust="spacingAndGlyphs">N</text><text x="5.80" y="1.4" font-size="5.7" textLength="3.00" lengthAdjust="spacingAndGlyphs">2</text><text x="9.55" y="0" font-size="8.0" textLength="5.8" lengthAdjust="spacingAndGlyphs">D</text><text x="15.95" y="-2.4" font-size="6.6">+</text><text x="16.45" y="2.1" font-size="5.50" textLength="6.30" lengthAdjust="spacingAndGlyphs">13</text></g>
<line x1="334.0" y1="29.3" x2="334.0" y2="35.7" stroke="#999" stroke-width="0.7"/>
<g class="lab" transform="translate(345.30,77.10)"><text x="0" y="0" font-size="8.0" textLength="7.9" lengthAdjust="spacingAndGlyphs">He</text><text x="7.80" y="1.4" font-size="5.7" textLength="3.00" lengthAdjust="spacingAndGlyphs">6</text><text x="11.55" y="0" font-size="8.0" textLength="5.8" lengthAdjust="spacingAndGlyphs">D</text><text x="17.95" y="-2.4" font-size="6.6">+</text><text x="18.45" y="2.1" font-size="5.50" textLength="6.30" lengthAdjust="spacingAndGlyphs">15</text></g>
<line x1="357.4" y1="83.6" x2="357.4" y2="90.0" stroke="#999" stroke-width="0.7"/>
<g class="lab" transform="translate(362.40,52.10)"><text x="0" y="0" font-size="8.0" textLength="7.9" lengthAdjust="spacingAndGlyphs">He</text><text x="7.80" y="1.4" font-size="5.7" textLength="3.00" lengthAdjust="spacingAndGlyphs">5</text><text x="11.55" y="0" font-size="8.0" textLength="5.8" lengthAdjust="spacingAndGlyphs">D</text><text x="17.95" y="-2.4" font-size="6.6">+</text><text x="18.45" y="2.1" font-size="5.50" textLength="6.30" lengthAdjust="spacingAndGlyphs">17</text></g>
<line x1="374.3" y1="59.3" x2="374.3" y2="93.6" stroke="#888" stroke-width="0.7"/>
<g class="lab" transform="translate(377.40,68.30)"><text x="0" y="0" font-size="8.0" textLength="7.9" lengthAdjust="spacingAndGlyphs">He</text><text x="7.80" y="1.4" font-size="5.7" textLength="3.00" lengthAdjust="spacingAndGlyphs">4</text><text x="11.55" y="0" font-size="8.0" textLength="5.8" lengthAdjust="spacingAndGlyphs">D</text><text x="17.95" y="-2.4" font-size="6.6">+</text><text x="18.45" y="2.1" font-size="5.50" textLength="6.30" lengthAdjust="spacingAndGlyphs">19</text></g>
<line x1="389.5" y1="74.8" x2="389.5" y2="96.0" stroke="#888" stroke-width="0.7"/>
<g class="lab" transform="translate(394.10,83.10)"><text x="0" y="0" font-size="8.0" textLength="7.9" lengthAdjust="spacingAndGlyphs">He</text><text x="7.80" y="1.4" font-size="5.7" textLength="3.00" lengthAdjust="spacingAndGlyphs">3</text><text x="11.55" y="0" font-size="8.0" textLength="5.8" lengthAdjust="spacingAndGlyphs">D</text><text x="17.95" y="-2.4" font-size="6.6">+</text><text x="18.45" y="2.1" font-size="5.50" textLength="6.30" lengthAdjust="spacingAndGlyphs">21</text></g>
<line x1="406.4" y1="89.6" x2="406.4" y2="96.0" stroke="#999" stroke-width="0.7"/>
<g class="lab" transform="translate(411.10,55.00)"><text x="0" y="0" font-size="8.0" textLength="7.9" lengthAdjust="spacingAndGlyphs">He</text><text x="7.80" y="1.4" font-size="5.7" textLength="3.00" lengthAdjust="spacingAndGlyphs">2</text><text x="11.55" y="0" font-size="8.0" textLength="5.8" lengthAdjust="spacingAndGlyphs">D</text><text x="17.95" y="-2.4" font-size="6.6">+</text><text x="18.45" y="2.1" font-size="5.50" textLength="6.30" lengthAdjust="spacingAndGlyphs">23</text></g>
<line x1="423.6" y1="61.0" x2="423.6" y2="96.0" stroke="#888" stroke-width="0.7"/>
<g class="lab" transform="translate(426.10,68.10)"><text x="0" y="0" font-size="8.0" textLength="7.9" lengthAdjust="spacingAndGlyphs">He</text><text x="7.80" y="1.4" font-size="5.7" textLength="3.00" lengthAdjust="spacingAndGlyphs">1</text><text x="11.55" y="0" font-size="8.0" textLength="5.8" lengthAdjust="spacingAndGlyphs">D</text><text x="17.95" y="-2.4" font-size="6.6">+</text><text x="18.45" y="2.1" font-size="5.50" textLength="6.30" lengthAdjust="spacingAndGlyphs">25</text></g>
<line x1="438.6" y1="74.6" x2="438.6" y2="96.0" stroke="#888" stroke-width="0.7"/>
<path d="M227.5,223.2 V123.4 H460 M227.5,223.2 H460" fill="none" stroke="#505050" stroke-width="0.9"/>
<line x1="227.95" y1="223.2" x2="227.95" y2="226.2" stroke="#505050" stroke-width="0.7"/>
<text x="227.95" y="236.4" text-anchor="middle" font-size="10">497.5</text>
<line x1="234.24" y1="223.2" x2="234.24" y2="225.0" stroke="#505050" stroke-width="0.7"/>
<line x1="240.53" y1="223.2" x2="240.53" y2="225.0" stroke="#505050" stroke-width="0.7"/>
<line x1="246.82" y1="223.2" x2="246.82" y2="225.0" stroke="#505050" stroke-width="0.7"/>
<line x1="253.11" y1="223.2" x2="253.11" y2="225.0" stroke="#505050" stroke-width="0.7"/>
<line x1="259.40" y1="223.2" x2="259.40" y2="226.2" stroke="#505050" stroke-width="0.7"/>
<text x="259.40" y="236.4" text-anchor="middle" font-size="10">498.0</text>
<line x1="265.69" y1="223.2" x2="265.69" y2="225.0" stroke="#505050" stroke-width="0.7"/>
<line x1="271.98" y1="223.2" x2="271.98" y2="225.0" stroke="#505050" stroke-width="0.7"/>
<line x1="278.27" y1="223.2" x2="278.27" y2="225.0" stroke="#505050" stroke-width="0.7"/>
<line x1="284.56" y1="223.2" x2="284.56" y2="225.0" stroke="#505050" stroke-width="0.7"/>
<line x1="290.85" y1="223.2" x2="290.85" y2="226.2" stroke="#505050" stroke-width="0.7"/>
<text x="290.85" y="236.4" text-anchor="middle" font-size="10">498.5</text>
<line x1="297.14" y1="223.2" x2="297.14" y2="225.0" stroke="#505050" stroke-width="0.7"/>
<line x1="303.43" y1="223.2" x2="303.43" y2="225.0" stroke="#505050" stroke-width="0.7"/>
<line x1="309.72" y1="223.2" x2="309.72" y2="225.0" stroke="#505050" stroke-width="0.7"/>
<line x1="316.01" y1="223.2" x2="316.01" y2="225.0" stroke="#505050" stroke-width="0.7"/>
<line x1="322.30" y1="223.2" x2="322.30" y2="226.2" stroke="#505050" stroke-width="0.7"/>
<text x="322.30" y="236.4" text-anchor="middle" font-size="10">499.0</text>
<line x1="328.59" y1="223.2" x2="328.59" y2="225.0" stroke="#505050" stroke-width="0.7"/>
<line x1="334.88" y1="223.2" x2="334.88" y2="225.0" stroke="#505050" stroke-width="0.7"/>
<line x1="341.17" y1="223.2" x2="341.17" y2="225.0" stroke="#505050" stroke-width="0.7"/>
<line x1="347.46" y1="223.2" x2="347.46" y2="225.0" stroke="#505050" stroke-width="0.7"/>
<line x1="353.75" y1="223.2" x2="353.75" y2="226.2" stroke="#505050" stroke-width="0.7"/>
<text x="353.75" y="236.4" text-anchor="middle" font-size="10">499.5</text>
<line x1="360.04" y1="223.2" x2="360.04" y2="225.0" stroke="#505050" stroke-width="0.7"/>
<line x1="366.33" y1="223.2" x2="366.33" y2="225.0" stroke="#505050" stroke-width="0.7"/>
<line x1="372.62" y1="223.2" x2="372.62" y2="225.0" stroke="#505050" stroke-width="0.7"/>
<line x1="378.91" y1="223.2" x2="378.91" y2="225.0" stroke="#505050" stroke-width="0.7"/>
<line x1="385.20" y1="223.2" x2="385.20" y2="226.2" stroke="#505050" stroke-width="0.7"/>
<text x="385.20" y="236.4" text-anchor="middle" font-size="10">500.0</text>
<line x1="391.49" y1="223.2" x2="391.49" y2="225.0" stroke="#505050" stroke-width="0.7"/>
<line x1="397.78" y1="223.2" x2="397.78" y2="225.0" stroke="#505050" stroke-width="0.7"/>
<line x1="404.07" y1="223.2" x2="404.07" y2="225.0" stroke="#505050" stroke-width="0.7"/>
<line x1="410.36" y1="223.2" x2="410.36" y2="225.0" stroke="#505050" stroke-width="0.7"/>
<line x1="416.65" y1="223.2" x2="416.65" y2="226.2" stroke="#505050" stroke-width="0.7"/>
<text x="416.65" y="236.4" text-anchor="middle" font-size="10">500.5</text>
<line x1="422.94" y1="223.2" x2="422.94" y2="225.0" stroke="#505050" stroke-width="0.7"/>
<line x1="429.23" y1="223.2" x2="429.23" y2="225.0" stroke="#505050" stroke-width="0.7"/>
<line x1="435.52" y1="223.2" x2="435.52" y2="225.0" stroke="#505050" stroke-width="0.7"/>
<line x1="441.81" y1="223.2" x2="441.81" y2="225.0" stroke="#505050" stroke-width="0.7"/>
<line x1="448.10" y1="223.2" x2="448.10" y2="226.2" stroke="#505050" stroke-width="0.7"/>
<text x="448.10" y="236.4" text-anchor="middle" font-size="10">501.0</text>
<text x="354" y="249.6" text-anchor="middle" font-size="10" textLength="95.9" lengthAdjust="spacingAndGlyphs">Mass per charge (u/e)</text>
<path d="M227.50,217.99 L227.75,218.00 L228.00,218.00 L228.25,218.04 L228.50,218.08 L228.75,218.11 L229.00,218.15 L229.25,218.19 L229.50,218.23 L229.75,218.26 L230.00,218.30 L230.25,218.34 L230.50,218.38 L230.75,218.41 L231.00,218.45 L231.25,218.49 L231.50,218.53 L231.75,218.56 L232.00,218.60 L232.25,218.55 L232.50,218.50 L232.75,218.45 L233.00,218.40 L233.25,218.35 L233.50,218.30 L233.75,218.25 L234.00,218.20 L234.25,218.15 L234.50,218.10 L234.75,218.05 L235.00,218.00 L235.25,217.95 L235.50,217.90 L235.75,217.85 L236.00,217.80 L236.25,217.75 L236.50,217.70 L236.75,217.65 L237.00,217.60 L237.25,217.64 L237.50,217.68 L237.75,217.72 L238.00,217.76 L238.25,217.80 L238.50,217.84 L238.75,217.88 L239.00,217.92 L239.25,217.96 L239.50,218.00 L239.75,218.03 L240.00,218.07 L240.25,218.11 L240.50,218.15 L240.75,218.19 L241.00,218.23 L241.25,218.27 L241.50,218.31 L241.75,218.35 L242.00,218.39 L242.25,218.43 L242.50,218.47 L242.75,218.51 L243.00,218.55 L243.25,218.59 L243.50,218.63 L243.75,218.67 L244.00,218.71 L244.25,218.74 L244.50,218.78 L244.75,218.77 L245.00,218.72 L245.25,218.67 L245.50,218.63 L245.75,218.58 L246.00,218.53 L246.25,218.48 L246.50,218.43 L246.75,218.39 L247.00,218.34 L247.25,218.29 L247.50,218.24 L247.75,218.19 L248.00,218.14 L248.25,218.10 L248.50,218.05 L248.75,218.00 L249.00,217.95 L249.25,217.90 L249.50,217.85 L249.75,217.81 L250.00,217.76 L250.25,217.71 L250.50,217.73 L250.75,217.77 L251.00,217.81 L251.25,217.85 L251.50,217.89 L251.75,217.93 L252.00,217.97 L252.25,218.01 L252.50,218.05 L252.75,218.08 L253.00,218.12 L253.25,218.16 L253.50,218.20 L253.75,218.24 L254.00,218.28 L254.25,218.32 L254.50,218.36 L254.75,218.40 L255.00,218.44 L255.25,218.48 L255.50,218.51 L255.75,218.55 L256.00,218.59 L256.25,218.63 L256.50,218.67 L256.75,218.69 L257.00,218.62 L257.25,218.56 L257.50,218.49 L257.75,218.43 L258.00,218.36 L258.25,218.30 L258.50,218.23 L258.75,218.17 L259.00,218.10 L259.25,218.03 L259.50,217.97 L259.75,217.90 L260.00,217.84 L260.25,217.77 L260.50,217.71 L260.75,217.64 L261.00,217.57 L261.25,217.51 L261.50,217.44 L261.75,217.37 L262.00,217.31 L262.25,217.24 L262.50,217.17 L262.75,217.11 L263.00,217.04 L263.25,216.97 L263.50,216.90 L263.75,216.83 L264.00,216.77 L264.25,216.70 L264.50,216.63 L264.75,216.58 L265.00,216.55 L265.25,216.51 L265.50,216.48 L265.75,216.44 L266.00,216.40 L266.25,216.37 L266.50,216.33 L266.75,216.28 L267.00,216.24 L267.25,216.19 L267.50,216.14 L267.75,216.08 L268.00,216.02 L268.25,215.95 L268.50,215.87 L268.75,215.79 L269.00,215.69 L269.25,215.59 L269.50,215.47 L269.75,215.34 L270.00,215.19 L270.25,215.04 L270.50,214.86 L270.75,214.67 L271.00,214.47 L271.25,214.25 L271.50,214.03 L271.75,213.79 L272.00,213.54 L272.25,213.29 L272.50,213.04 L272.75,212.79 L273.00,212.55 L273.25,212.33 L273.50,212.12 L273.75,211.94 L274.00,211.80 L274.25,211.69 L274.50,211.62 L274.75,211.59 L275.00,211.60 L275.25,211.66 L275.50,211.75 L275.75,211.87 L276.00,212.02 L276.25,212.18 L276.50,212.36 L276.75,212.55 L277.00,212.74 L277.25,212.92 L277.50,213.10 L277.75,213.27 L278.00,213.43 L278.25,213.57 L278.50,213.70 L278.75,213.81 L279.00,213.91 L279.25,213.98 L279.50,214.04 L279.75,214.08 L280.00,214.10 L280.25,214.10 L280.50,214.08 L280.75,214.05 L281.00,213.99 L281.25,213.92 L281.50,213.82 L281.75,213.71 L282.00,213.57 L282.25,213.41 L282.50,213.24 L282.75,213.04 L283.00,212.83 L283.25,212.59 L283.50,212.35 L283.75,212.08 L284.00,211.81 L284.25,211.52 L284.50,211.24 L284.75,210.95 L285.00,210.68 L285.25,210.41 L285.50,210.17 L285.75,209.96 L286.00,209.78 L286.25,209.64 L286.50,209.54 L286.75,209.49 L287.00,209.50 L287.25,209.55 L287.50,209.65 L287.75,209.78 L288.00,209.94 L288.25,210.13 L288.50,210.34 L288.75,210.56 L289.00,210.78 L289.25,211.01 L289.50,211.22 L289.75,211.43 L290.00,211.63 L290.25,211.81 L290.50,211.97 L290.75,212.11 L291.00,212.23 L291.25,212.33 L291.50,212.41 L291.75,212.47 L292.00,212.51 L292.25,212.52 L292.50,212.51 L292.75,212.48 L293.00,212.43 L293.25,212.34 L293.50,212.22 L293.75,212.08 L294.00,211.91 L294.25,211.71 L294.50,211.48 L294.75,211.22 L295.00,210.92 L295.25,210.60 L295.50,210.24 L295.75,209.86 L296.00,209.45 L296.25,209.01 L296.50,208.55 L296.75,208.08 L297.00,207.60 L297.25,207.12 L297.50,206.65 L297.75,206.20 L298.00,205.77 L298.25,205.39 L298.50,205.07 L298.75,204.80 L299.00,204.62 L299.25,204.51 L299.50,204.49 L299.75,204.55 L300.00,204.69 L300.25,204.90 L300.50,205.16 L300.75,205.47 L301.00,205.82 L301.25,206.19 L301.50,206.57 L301.75,206.96 L302.00,207.33 L302.25,207.70 L302.50,208.04 L302.75,208.36 L303.00,208.65 L303.25,208.91 L303.50,209.13 L303.75,209.32 L304.00,209.47 L304.25,209.58 L304.50,209.65 L304.75,209.69 L305.00,209.68 L305.25,209.63 L305.50,209.54 L305.75,209.41 L306.00,209.24 L306.25,209.02 L306.50,208.76 L306.75,208.46 L307.00,208.10 L307.25,207.71 L307.50,207.26 L307.75,206.78 L308.00,206.25 L308.25,205.69 L308.50,205.09 L308.75,204.47 L309.00,203.84 L309.25,203.20 L309.50,202.57 L309.75,201.95 L310.00,201.37 L310.25,200.85 L310.50,200.38 L310.75,200.01 L311.00,199.72 L311.25,199.55 L311.50,199.49 L311.75,199.54 L312.00,199.71 L312.25,199.97 L312.50,200.31 L312.75,200.73 L313.00,201.20 L313.25,201.71 L313.50,202.24 L313.75,202.77 L314.00,203.30 L314.25,203.82 L314.50,204.31 L314.75,204.77 L315.00,205.19 L315.25,205.57 L315.50,205.89 L315.75,206.17 L316.00,206.39 L316.25,206.56 L316.50,206.67 L316.75,206.72 L317.00,206.72 L317.25,206.64 L317.50,206.49 L317.75,206.28 L318.00,206.01 L318.25,205.68 L318.50,205.28 L318.75,204.82 L319.00,204.30 L319.25,203.72 L319.50,203.08 L319.75,202.38 L320.00,201.64 L320.25,200.86 L320.50,200.05 L320.75,199.22 L321.00,198.39 L321.25,197.56 L321.50,196.77 L321.75,196.03 L322.00,195.35 L322.25,194.76 L322.50,194.29 L322.75,193.94 L323.00,193.74 L323.25,193.68 L323.50,193.78 L323.75,194.01 L324.00,194.36 L324.25,194.82 L324.50,195.37 L324.75,195.99 L325.00,196.65 L325.25,197.33 L325.50,198.02 L325.75,198.71 L326.00,199.37 L326.25,200.00 L326.50,200.59 L326.75,201.13 L327.00,201.61 L327.25,202.04 L327.50,202.40 L327.75,202.70 L328.00,202.94 L328.25,203.11 L328.50,203.21 L328.75,203.25 L329.00,203.22 L329.25,203.13 L329.50,202.95 L329.75,202.70 L330.00,202.38 L330.25,201.98 L330.50,201.51 L330.75,200.96 L331.00,200.33 L331.25,199.63 L331.50,198.84 L331.75,197.98 L332.00,197.06 L332.25,196.07 L332.50,195.02 L332.75,193.93 L333.00,192.82 L333.25,191.70 L333.50,190.59 L333.75,189.51 L334.00,188.49 L334.25,187.57 L334.50,186.76 L334.75,186.09 L335.00,185.60 L335.25,185.29 L335.50,185.18 L335.75,185.27 L336.00,185.55 L336.25,186.01 L336.50,186.61 L336.75,187.34 L337.00,188.16 L337.25,189.05 L337.50,189.97 L337.75,190.92 L338.00,191.85 L338.25,192.76 L338.50,193.62 L338.75,194.44 L339.00,195.18 L339.25,195.86 L339.50,196.45 L339.75,196.96 L340.00,197.39 L340.25,197.72 L340.50,197.97 L340.75,198.12 L341.00,198.19 L341.25,198.16 L341.50,198.05 L341.75,197.85 L342.00,197.55 L342.25,197.16 L342.50,196.67 L342.75,196.07 L343.00,195.38 L343.25,194.58 L343.50,193.68 L343.75,192.69 L344.00,191.60 L344.25,190.43 L344.50,189.19 L344.75,187.88 L345.00,186.54 L345.25,185.17 L345.50,183.81 L345.75,182.47 L346.00,181.20 L346.25,180.03 L346.50,178.99 L346.75,178.12 L347.00,177.44 L347.25,177.00 L347.50,176.80 L347.75,176.85 L348.00,177.15 L348.25,177.68 L348.50,178.40 L348.75,179.30 L349.00,180.32 L349.25,181.45 L349.50,182.63 L349.75,183.84 L350.00,185.06 L350.25,186.25 L350.50,187.40 L350.75,188.49 L351.00,189.50 L351.25,190.42 L351.50,191.25 L351.75,191.97 L352.00,192.58 L352.25,193.08 L352.50,193.48 L352.75,193.75 L353.00,193.92 L353.25,193.97 L353.50,193.90 L353.75,193.72 L354.00,193.42 L354.25,193.02 L354.50,192.53 L354.75,191.93 L355.00,191.20 L355.25,190.35 L355.50,189.38 L355.75,188.29 L356.00,187.10 L356.25,185.81 L356.50,184.42 L356.75,182.97 L357.00,181.47 L357.25,179.95 L357.50,178.42 L357.75,176.94 L358.00,175.52 L358.25,174.22 L358.50,173.08 L358.75,172.13 L359.00,171.41 L359.25,170.96 L359.50,170.80 L359.75,170.93 L360.00,171.35 L360.25,172.04 L360.50,172.96 L360.75,174.07 L361.00,175.34 L361.25,176.73 L361.50,178.19 L361.75,179.68 L362.00,181.18 L362.25,182.65 L362.50,184.07 L362.75,185.42 L363.00,186.68 L363.25,187.85 L363.50,188.90 L363.75,189.84 L364.00,190.66 L364.25,191.36 L364.50,191.94 L364.75,192.39 L365.00,192.72 L365.25,192.93 L365.50,193.03 L365.75,193.00 L366.00,192.85 L366.25,192.59 L366.50,192.20 L366.75,191.72 L367.00,191.13 L367.25,190.41 L367.50,189.56 L367.75,188.60 L368.00,187.52 L368.25,186.34 L368.50,185.05 L368.75,183.68 L369.00,182.25 L369.25,180.77 L369.50,179.27 L369.75,177.78 L370.00,176.33 L370.25,174.96 L370.50,173.72 L370.75,172.64 L371.00,171.76 L371.25,171.13 L371.50,170.78 L371.75,170.71 L372.00,170.94 L372.25,171.46 L372.50,172.24 L372.75,173.24 L373.00,174.44 L373.25,175.79 L373.50,177.24 L373.75,178.75 L374.00,180.30 L374.25,181.84 L374.50,183.35 L374.75,184.81 L375.00,186.19 L375.25,187.48 L375.50,188.67 L375.75,189.74 L376.00,190.70 L376.25,191.54 L376.50,192.25 L376.75,192.84 L377.00,193.30 L377.25,193.64 L377.50,193.87 L377.75,193.97 L378.00,193.95 L378.25,193.81 L378.50,193.56 L378.75,193.19 L379.00,192.72 L379.25,192.14 L379.50,191.45 L379.75,190.65 L380.00,189.74 L380.25,188.72 L380.50,187.62 L380.75,186.45 L381.00,185.21 L381.25,183.93 L381.50,182.63 L381.75,181.33 L382.00,180.08 L382.25,178.90 L382.50,177.82 L382.75,176.89 L383.00,176.15 L383.25,175.62 L383.50,175.34 L383.75,175.32 L384.00,175.56 L384.25,176.05 L384.50,176.78 L384.75,177.72 L385.00,178.82 L385.25,180.05 L385.50,181.38 L385.75,182.77 L386.00,184.18 L386.25,185.59 L386.50,186.97 L386.75,188.30 L387.00,189.57 L387.25,190.75 L387.50,191.84 L387.75,192.83 L388.00,193.71 L388.25,194.48 L388.50,195.15 L388.75,195.69 L389.00,196.13 L389.25,196.46 L389.50,196.67 L389.75,196.79 L390.00,196.79 L390.25,196.69 L390.50,196.49 L390.75,196.19 L391.00,195.79 L391.25,195.29 L391.50,194.69 L391.75,194.00 L392.00,193.23 L392.25,192.39 L392.50,191.49 L392.75,190.55 L393.00,189.57 L393.25,188.58 L393.50,187.60 L393.75,186.65 L394.00,185.76 L394.25,184.96 L394.50,184.28 L394.75,183.75 L395.00,183.38 L395.25,183.21 L395.50,183.24 L395.75,183.46 L396.00,183.89 L396.25,184.48 L396.50,185.23 L396.75,186.11 L397.00,187.08 L397.25,188.11 L397.50,189.19 L397.75,190.28 L398.00,191.37 L398.25,192.43 L398.50,193.45 L398.75,194.43 L399.00,195.34 L399.25,196.18 L399.50,196.95 L399.75,197.64 L400.00,198.25 L400.25,198.78 L400.50,199.23 L400.75,199.61 L401.00,199.92 L401.25,200.15 L401.50,200.31 L401.75,200.41 L402.00,200.44 L402.25,200.41 L402.50,200.31 L402.75,200.16 L403.00,199.94 L403.25,199.66 L403.50,199.36 L403.75,199.02 L404.00,198.63 L404.25,198.18 L404.50,197.70 L404.75,197.17 L405.00,196.62 L405.25,196.06 L405.50,195.49 L405.75,194.93 L406.00,194.39 L406.25,193.90 L406.50,193.46 L406.75,193.11 L407.00,192.85 L407.25,192.70 L407.50,192.67 L407.75,192.78 L408.00,193.01 L408.25,193.36 L408.50,193.83 L408.75,194.38 L409.00,195.01 L409.25,195.70 L409.50,196.43 L409.75,197.18 L410.00,197.94 L410.25,198.69 L410.50,199.42 L410.75,200.13 L411.00,200.80 L411.25,201.44 L411.50,202.03 L411.75,202.57 L412.00,203.06 L412.25,203.50 L412.50,203.90 L412.75,204.24 L413.00,204.54 L413.25,204.79 L413.50,205.00 L413.75,205.16 L414.00,205.29 L414.25,205.37 L414.50,205.42 L414.75,205.43 L415.00,205.41 L415.25,205.35 L415.50,205.25 L415.75,205.11 L416.00,204.93 L416.25,204.73 L416.50,204.50 L416.75,204.26 L417.00,203.99 L417.25,203.71 L417.50,203.43 L417.75,203.15 L418.00,202.88 L418.25,202.62 L418.50,202.40 L418.75,202.21 L419.00,202.07 L419.25,201.99 L419.50,201.97 L419.75,202.02 L420.00,202.13 L420.25,202.31 L420.50,202.56 L420.75,202.86 L421.00,203.20 L421.25,203.57 L421.50,203.97 L421.75,204.39 L422.00,204.81 L422.25,205.23 L422.50,205.65 L422.75,206.05 L423.00,206.44 L423.25,206.81 L423.50,207.16 L423.75,207.48 L424.00,207.77 L424.25,208.04 L424.50,208.29 L424.75,208.51 L425.00,208.70 L425.25,208.88 L425.50,209.03 L425.75,209.16 L426.00,209.27 L426.25,209.36 L426.50,209.44 L426.75,209.50 L427.00,209.55 L427.25,209.58 L427.50,209.60 L427.75,209.59 L428.00,209.57 L428.25,209.54 L428.50,209.49 L428.75,209.44 L429.00,209.38 L429.25,209.31 L429.50,209.24 L429.75,209.16 L430.00,209.09 L430.25,209.02 L430.50,208.96 L430.75,208.91 L431.00,208.87 L431.25,208.85 L431.50,208.85 L431.75,208.87 L432.00,208.92 L432.25,208.99 L432.50,209.09 L432.75,209.20 L433.00,209.34 L433.25,209.49 L433.50,209.65 L433.75,209.82 L434.00,209.99 L434.25,210.17 L434.50,210.34 L434.75,210.51 L435.00,210.68 L435.25,210.84 L435.50,211.00 L435.75,211.14 L436.00,211.28 L436.25,211.41 L436.50,211.53 L436.75,211.65 L437.00,211.75 L437.25,211.85 L437.50,211.94 L437.75,212.02 L438.00,212.10 L438.25,212.18 L438.50,212.25 L438.75,212.31 L439.00,212.37 L439.25,212.43 L439.50,212.49 L439.75,212.55 L440.00,212.60 L440.25,212.62 L440.50,212.64 L440.75,212.67 L441.00,212.69 L441.25,212.71 L441.50,212.72 L441.75,212.74 L442.00,212.76 L442.25,212.78 L442.50,212.80 L442.75,212.82 L443.00,212.83 L443.25,212.85 L443.50,212.87 L443.75,212.88 L444.00,212.90 L444.25,212.92 L444.50,212.93 L444.75,212.95 L445.00,212.97 L445.25,212.98 L445.50,213.00 L445.75,213.02 L446.00,213.03 L446.25,213.05 L446.50,213.06 L446.75,213.08 L447.00,213.09 L447.25,213.11 L447.50,213.13 L447.75,213.14 L448.00,213.16 L448.25,213.17 L448.50,213.19 L448.75,213.20 L449.00,213.22" fill="none" stroke="#111" stroke-width="1.3" stroke-linejoin="round"/>
<line x1="274.6" y1="206.80" x2="274.6" y2="209.00" stroke="#888" stroke-width="0.7"/>
<g class="lab" transform="translate(275.00,203.30) rotate(-90)"><text x="0" y="0" font-size="8.0" textLength="5.9" lengthAdjust="spacingAndGlyphs">N</text><text x="5.80" y="1.4" font-size="5.7" textLength="6.30" lengthAdjust="spacingAndGlyphs">34</text><text x="12.85" y="0" font-size="8.0" textLength="5.8" lengthAdjust="spacingAndGlyphs">D</text><text x="19.25" y="-2.4" font-size="6.6">+</text><text x="19.75" y="2.1" font-size="5.50" textLength="6.30" lengthAdjust="spacingAndGlyphs">11</text></g>
<line x1="286.7" y1="204.70" x2="286.7" y2="206.90" stroke="#888" stroke-width="0.7"/>
<g class="lab" transform="translate(287.10,201.20) rotate(-90)"><text x="0" y="0" font-size="8.0" textLength="5.9" lengthAdjust="spacingAndGlyphs">N</text><text x="5.80" y="1.4" font-size="5.7" textLength="6.30" lengthAdjust="spacingAndGlyphs">32</text><text x="12.85" y="0" font-size="8.0" textLength="5.8" lengthAdjust="spacingAndGlyphs">D</text><text x="19.25" y="-2.4" font-size="6.6">+</text><text x="19.75" y="2.1" font-size="5.50" textLength="6.30" lengthAdjust="spacingAndGlyphs">25</text></g>
<line x1="299.3" y1="199.70" x2="299.3" y2="201.90" stroke="#888" stroke-width="0.7"/>
<g class="lab" transform="translate(299.70,196.20) rotate(-90)"><text x="0" y="0" font-size="8.0" textLength="5.9" lengthAdjust="spacingAndGlyphs">N</text><text x="5.80" y="1.4" font-size="5.7" textLength="6.30" lengthAdjust="spacingAndGlyphs">30</text><text x="12.85" y="0" font-size="8.0" textLength="5.8" lengthAdjust="spacingAndGlyphs">D</text><text x="19.25" y="-2.4" font-size="6.6">+</text><text x="19.75" y="2.1" font-size="5.50" textLength="6.30" lengthAdjust="spacingAndGlyphs">39</text></g>
<line x1="311.4" y1="194.70" x2="311.4" y2="196.90" stroke="#888" stroke-width="0.7"/>
<g class="lab" transform="translate(311.80,191.20) rotate(-90)"><text x="0" y="0" font-size="8.0" textLength="5.9" lengthAdjust="spacingAndGlyphs">N</text><text x="5.80" y="1.4" font-size="5.7" textLength="6.30" lengthAdjust="spacingAndGlyphs">28</text><text x="12.85" y="0" font-size="8.0" textLength="5.8" lengthAdjust="spacingAndGlyphs">D</text><text x="19.25" y="-2.4" font-size="6.6">+</text><text x="19.75" y="2.1" font-size="5.50" textLength="6.30" lengthAdjust="spacingAndGlyphs">53</text></g>
<line x1="323.1" y1="188.90" x2="323.1" y2="191.10" stroke="#888" stroke-width="0.7"/>
<g class="lab" transform="translate(323.50,185.40) rotate(-90)"><text x="0" y="0" font-size="8.0" textLength="5.9" lengthAdjust="spacingAndGlyphs">N</text><text x="5.80" y="1.4" font-size="5.7" textLength="6.30" lengthAdjust="spacingAndGlyphs">26</text><text x="12.85" y="0" font-size="8.0" textLength="5.8" lengthAdjust="spacingAndGlyphs">D</text><text x="19.25" y="-2.4" font-size="6.6">+</text><text x="19.75" y="2.1" font-size="5.50" textLength="6.30" lengthAdjust="spacingAndGlyphs">67</text></g>
<line x1="335.4" y1="180.40" x2="335.4" y2="182.60" stroke="#888" stroke-width="0.7"/>
<g class="lab" transform="translate(335.80,176.90) rotate(-90)"><text x="0" y="0" font-size="8.0" textLength="5.9" lengthAdjust="spacingAndGlyphs">N</text><text x="5.80" y="1.4" font-size="5.7" textLength="6.30" lengthAdjust="spacingAndGlyphs">24</text><text x="12.85" y="0" font-size="8.0" textLength="5.8" lengthAdjust="spacingAndGlyphs">D</text><text x="19.25" y="-2.4" font-size="6.6">+</text><text x="19.75" y="2.1" font-size="5.50" textLength="6.30" lengthAdjust="spacingAndGlyphs">81</text></g>
<line x1="347.5" y1="172.00" x2="347.5" y2="174.20" stroke="#888" stroke-width="0.7"/>
<g class="lab" transform="translate(347.90,168.50) rotate(-90)"><text x="0" y="0" font-size="8.0" textLength="5.9" lengthAdjust="spacingAndGlyphs">N</text><text x="5.80" y="1.4" font-size="5.7" textLength="6.30" lengthAdjust="spacingAndGlyphs">22</text><text x="12.85" y="0" font-size="8.0" textLength="5.8" lengthAdjust="spacingAndGlyphs">D</text><text x="19.25" y="-2.4" font-size="6.6">+</text><text x="19.75" y="2.1" font-size="5.50" textLength="6.30" lengthAdjust="spacingAndGlyphs">95</text></g>
<line x1="359.5" y1="166.00" x2="359.5" y2="168.20" stroke="#888" stroke-width="0.7"/>
<g class="lab" transform="translate(359.90,162.50) rotate(-90)"><text x="0" y="0" font-size="8.0" textLength="5.9" lengthAdjust="spacingAndGlyphs">N</text><text x="5.80" y="1.4" font-size="5.7" textLength="6.30" lengthAdjust="spacingAndGlyphs">20</text><text x="12.85" y="0" font-size="8.0" textLength="5.8" lengthAdjust="spacingAndGlyphs">D</text><text x="19.25" y="-2.4" font-size="6.6">+</text><text x="19.75" y="2.1" font-size="5.50" textLength="9.60" lengthAdjust="spacingAndGlyphs">109</text></g>
<line x1="371.7" y1="165.90" x2="371.7" y2="168.10" stroke="#888" stroke-width="0.7"/>
<g class="lab" transform="translate(372.10,162.40) rotate(-90)"><text x="0" y="0" font-size="8.0" textLength="5.9" lengthAdjust="spacingAndGlyphs">N</text><text x="5.80" y="1.4" font-size="5.7" textLength="6.30" lengthAdjust="spacingAndGlyphs">18</text><text x="12.85" y="0" font-size="8.0" textLength="5.8" lengthAdjust="spacingAndGlyphs">D</text><text x="19.25" y="-2.4" font-size="6.6">+</text><text x="19.75" y="2.1" font-size="5.50" textLength="9.60" lengthAdjust="spacingAndGlyphs">123</text></g>
<line x1="383.7" y1="170.50" x2="383.7" y2="172.70" stroke="#888" stroke-width="0.7"/>
<g class="lab" transform="translate(384.10,167.00) rotate(-90)"><text x="0" y="0" font-size="8.0" textLength="5.9" lengthAdjust="spacingAndGlyphs">N</text><text x="5.80" y="1.4" font-size="5.7" textLength="6.30" lengthAdjust="spacingAndGlyphs">16</text><text x="12.85" y="0" font-size="8.0" textLength="5.8" lengthAdjust="spacingAndGlyphs">D</text><text x="19.25" y="-2.4" font-size="6.6">+</text><text x="19.75" y="2.1" font-size="5.50" textLength="9.60" lengthAdjust="spacingAndGlyphs">137</text></g>
<line x1="395.4" y1="178.40" x2="395.4" y2="180.60" stroke="#888" stroke-width="0.7"/>
<g class="lab" transform="translate(395.80,174.90) rotate(-90)"><text x="0" y="0" font-size="8.0" textLength="5.9" lengthAdjust="spacingAndGlyphs">N</text><text x="5.80" y="1.4" font-size="5.7" textLength="6.30" lengthAdjust="spacingAndGlyphs">14</text><text x="12.85" y="0" font-size="8.0" textLength="5.8" lengthAdjust="spacingAndGlyphs">D</text><text x="19.25" y="-2.4" font-size="6.6">+</text><text x="19.75" y="2.1" font-size="5.50" textLength="9.60" lengthAdjust="spacingAndGlyphs">151</text></g>
<line x1="407.6" y1="187.90" x2="407.6" y2="190.10" stroke="#888" stroke-width="0.7"/>
<g class="lab" transform="translate(408.00,184.40) rotate(-90)"><text x="0" y="0" font-size="8.0" textLength="5.9" lengthAdjust="spacingAndGlyphs">N</text><text x="5.80" y="1.4" font-size="5.7" textLength="6.30" lengthAdjust="spacingAndGlyphs">12</text><text x="12.85" y="0" font-size="8.0" textLength="5.8" lengthAdjust="spacingAndGlyphs">D</text><text x="19.25" y="-2.4" font-size="6.6">+</text><text x="19.75" y="2.1" font-size="5.50" textLength="9.60" lengthAdjust="spacingAndGlyphs">165</text></g>
<line x1="419.7" y1="197.20" x2="419.7" y2="199.40" stroke="#888" stroke-width="0.7"/>
<g class="lab" transform="translate(420.10,193.70) rotate(-90)"><text x="0" y="0" font-size="8.0" textLength="5.9" lengthAdjust="spacingAndGlyphs">N</text><text x="5.80" y="1.4" font-size="5.7" textLength="6.30" lengthAdjust="spacingAndGlyphs">10</text><text x="12.85" y="0" font-size="8.0" textLength="5.8" lengthAdjust="spacingAndGlyphs">D</text><text x="19.25" y="-2.4" font-size="6.6">+</text><text x="19.75" y="2.1" font-size="5.50" textLength="9.60" lengthAdjust="spacingAndGlyphs">179</text></g>
<line x1="431.9" y1="204.10" x2="431.9" y2="206.30" stroke="#888" stroke-width="0.7"/>
<g class="lab" transform="translate(432.30,200.60) rotate(-90)"><text x="0" y="0" font-size="8.0" textLength="5.9" lengthAdjust="spacingAndGlyphs">N</text><text x="5.80" y="1.4" font-size="5.7" textLength="3.00" lengthAdjust="spacingAndGlyphs">8</text><text x="9.55" y="0" font-size="8.0" textLength="5.8" lengthAdjust="spacingAndGlyphs">D</text><text x="15.95" y="-2.4" font-size="6.6">+</text><text x="16.45" y="2.1" font-size="5.50" textLength="9.60" lengthAdjust="spacingAndGlyphs">193</text></g>
</svg>
</body></html>
